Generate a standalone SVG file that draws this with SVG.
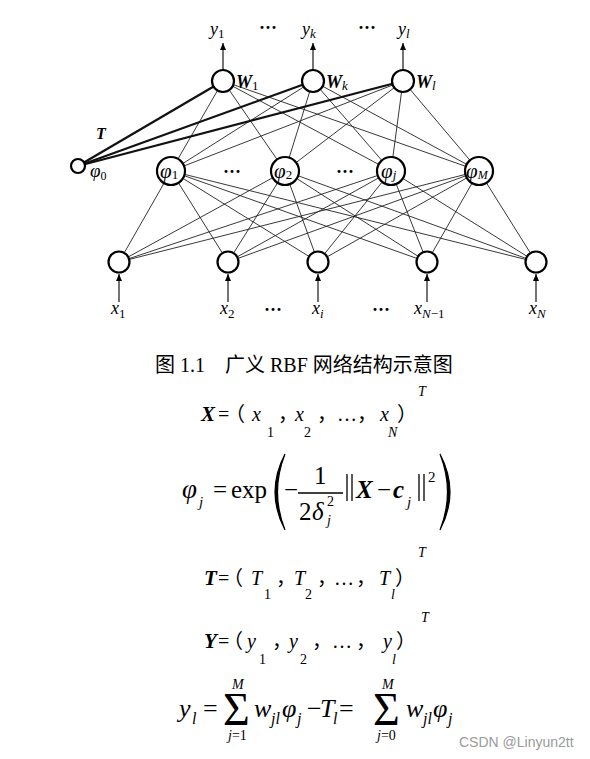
<svg xmlns="http://www.w3.org/2000/svg" width="590" height="759" viewBox="0 0 590 759">
<style>
.thin{stroke:#222;stroke-width:0.9;fill:none}
.thick{stroke:#111;stroke-width:2.2;fill:none}
.node{fill:#fff;stroke:#000;stroke-width:2.2}
.ar{stroke:#000;stroke-width:1.1;fill:none}
.t{font-family:"Liberation Serif","Times New Roman",serif;fill:#000}
.i{font-style:italic}
.b{font-weight:bold}
.cjk{font-family:"Liberation Serif","Noto Sans CJK SC",serif;fill:#000}
.dots{font-family:"Liberation Serif",serif;font-size:18px;font-weight:bold;fill:#000}
</style>
<defs>
<marker id="ah" markerWidth="8" markerHeight="8" refX="7" refY="4" orient="auto" markerUnits="userSpaceOnUse">
<path d="M0,1 L7,4 L0,7 Z" fill="#000"/>
</marker>
</defs>
<rect width="590" height="759" fill="#fff"/>
<g id="connectors">
<line class="thin" x1="171" y1="171" x2="223" y2="81"/>
<line class="thin" x1="171" y1="171" x2="313" y2="81"/>
<line class="thin" x1="171" y1="171" x2="403" y2="81"/>
<line class="thin" x1="285" y1="171" x2="223" y2="81"/>
<line class="thin" x1="285" y1="171" x2="313" y2="81"/>
<line class="thin" x1="285" y1="171" x2="403" y2="81"/>
<line class="thin" x1="391" y1="171" x2="223" y2="81"/>
<line class="thin" x1="391" y1="171" x2="313" y2="81"/>
<line class="thin" x1="391" y1="171" x2="403" y2="81"/>
<line class="thin" x1="479" y1="171" x2="223" y2="81"/>
<line class="thin" x1="479" y1="171" x2="313" y2="81"/>
<line class="thin" x1="479" y1="171" x2="403" y2="81"/>
<line class="thick" x1="78" y1="166" x2="223" y2="81"/>
<line class="thick" x1="78" y1="166" x2="313" y2="81"/>
<line class="thick" x1="78" y1="166" x2="403" y2="81"/>
<line class="thin" x1="119" y1="262" x2="171" y2="171"/>
<line class="thin" x1="119" y1="262" x2="285" y2="171"/>
<line class="thin" x1="119" y1="262" x2="391" y2="171"/>
<line class="thin" x1="119" y1="262" x2="479" y2="171"/>
<line class="thin" x1="228" y1="262" x2="171" y2="171"/>
<line class="thin" x1="228" y1="262" x2="285" y2="171"/>
<line class="thin" x1="228" y1="262" x2="391" y2="171"/>
<line class="thin" x1="228" y1="262" x2="479" y2="171"/>
<line class="thin" x1="318" y1="262" x2="171" y2="171"/>
<line class="thin" x1="318" y1="262" x2="285" y2="171"/>
<line class="thin" x1="318" y1="262" x2="391" y2="171"/>
<line class="thin" x1="318" y1="262" x2="479" y2="171"/>
<line class="thin" x1="427" y1="262" x2="171" y2="171"/>
<line class="thin" x1="427" y1="262" x2="285" y2="171"/>
<line class="thin" x1="427" y1="262" x2="391" y2="171"/>
<line class="thin" x1="427" y1="262" x2="479" y2="171"/>
<line class="thin" x1="536" y1="262" x2="171" y2="171"/>
<line class="thin" x1="536" y1="262" x2="285" y2="171"/>
<line class="thin" x1="536" y1="262" x2="391" y2="171"/>
<line class="thin" x1="536" y1="262" x2="479" y2="171"/>
<line class="ar" x1="223" y1="70" x2="223" y2="43" marker-end="url(#ah)"/>
<line class="ar" x1="313" y1="70" x2="313" y2="43" marker-end="url(#ah)"/>
<line class="ar" x1="403" y1="70" x2="403" y2="43" marker-end="url(#ah)"/>
<line class="ar" x1="119" y1="302" x2="119" y2="274" marker-end="url(#ah)"/>
<line class="ar" x1="228" y1="302" x2="228" y2="274" marker-end="url(#ah)"/>
<line class="ar" x1="318" y1="302" x2="318" y2="274" marker-end="url(#ah)"/>
<line class="ar" x1="427" y1="302" x2="427" y2="274" marker-end="url(#ah)"/>
<line class="ar" x1="536" y1="302" x2="536" y2="274" marker-end="url(#ah)"/>
</g>
<g id="out1"><circle class="node" cx="223" cy="81" r="11"/><text class="t i b" x="236" y="88" font-size="18">W<tspan font-weight="normal" font-style="normal" font-size="13" dy="2">1</tspan></text><text class="t i" x="210" y="35" font-size="18">y<tspan font-style="normal" font-size="13" dy="3">1</tspan></text></g>
<g id="outk"><circle class="node" cx="313" cy="81" r="11"/><text class="t i b" x="326" y="88" font-size="18">W<tspan font-weight="normal" font-size="13" dy="2">k</tspan></text><text class="t i" x="302" y="35" font-size="18">y<tspan font-size="13" dy="3">k</tspan></text></g>
<g id="outl"><circle class="node" cx="403" cy="81" r="11"/><text class="t i b" x="416" y="88" font-size="18">W<tspan font-weight="normal" font-size="13" dy="2">l</tspan></text><text class="t i" x="398" y="35" font-size="18">y<tspan font-size="13" dy="3">l</tspan></text></g>
<g id="dots-top"><text class="dots" x="259" y="34">···</text><text class="dots" x="358" y="34">···</text></g>
<g id="phi0"><circle class="node" cx="78" cy="166" r="7"/><text class="t i" x="90" y="177" font-size="19">φ<tspan font-style="normal" font-size="12" dy="3">0</tspan></text><text class="t i b" x="96" y="139" font-size="16">T</text></g>
<g id="phi1"><circle class="node" cx="171" cy="171" r="14"/><text class="t i" x="160" y="178" font-size="21">φ<tspan font-style="normal" font-size="13" dy="1">1</tspan></text></g>
<g id="phi2"><circle class="node" cx="285" cy="171" r="14"/><text class="t i" x="274" y="178" font-size="21">φ<tspan font-style="normal" font-size="13" dy="1">2</tspan></text></g>
<g id="phij"><circle class="node" cx="391" cy="171" r="14"/><text class="t i" x="381" y="178" font-size="21">φ<tspan font-size="13" dy="1">j</tspan></text></g>
<g id="phiM"><circle class="node" cx="479" cy="171" r="14"/><text class="t i" x="466" y="178" font-size="21">φ<tspan font-size="12" dy="1">M</tspan></text></g>
<g id="dots-mid"><text class="dots" x="223" y="178">···</text><text class="dots" x="336" y="178">···</text></g>
<g id="in1"><circle class="node" cx="119" cy="262" r="10.5"/><text class="t i" x="111" y="314" font-size="18">x<tspan font-style="normal" font-size="13" dy="4">1</tspan></text></g>
<g id="in2"><circle class="node" cx="228" cy="262" r="10.5"/><text class="t i" x="220" y="314" font-size="18">x<tspan font-style="normal" font-size="13" dy="4">2</tspan></text></g>
<g id="ini"><circle class="node" cx="318" cy="262" r="10.5"/><text class="t i" x="312" y="314" font-size="18">x<tspan font-size="13" dy="4">i</tspan></text></g>
<g id="inN1"><circle class="node" cx="427" cy="262" r="10.5"/><text class="t i" x="414" y="314" font-size="18">x<tspan font-size="13" dy="4">N</tspan><tspan font-style="normal" font-size="13">−1</tspan></text></g>
<g id="inN"><circle class="node" cx="536" cy="262" r="10.5"/><text class="t i" x="529" y="314" font-size="18">x<tspan font-size="13" dy="4">N</tspan></text></g>
<g id="dots-bot"><text class="dots" x="264" y="316">···</text><text class="dots" x="372" y="316">···</text></g>
<g id="caption"><text class="cjk" x="155" y="372" font-size="20">图 1.1　广义 RBF 网络结构示意图</text></g>
<g id="eq1" font-size="20">
<text class="t i b" x="201" y="421" font-size="21">X</text>
<text class="t" x="218" y="421">=</text>
<text class="cjk" x="225" y="421">（</text>
<text class="t i" x="252" y="421">x</text><text class="t" x="267" y="437" font-size="14">1</text>
<text class="cjk" x="278" y="421">，</text>
<text class="t i" x="295" y="421">x</text><text class="t" x="304" y="437" font-size="14">2</text>
<text class="cjk" x="317" y="421">，</text>
<text class="t" x="337" y="421">…</text>
<text class="cjk" x="357" y="421">，</text>
<text class="t i" x="380" y="421">x</text><text class="t i" x="388" y="437" font-size="14">N</text>
<text class="cjk" x="397" y="421">）</text>
<text class="t i" x="418" y="396" font-size="14">T</text>
</g>
<g id="eq2" font-size="25">
<text class="t i" x="182" y="498" font-size="27">φ</text><text class="t i" x="199" y="507" font-size="15">j</text>
<text class="t" x="213" y="498">=</text>
<text class="t" x="231" y="498">exp</text>
<path d="M285,454 Q265,492 285,530 Q270,492 285,454 Z" stroke="#000" stroke-width="1.2" fill="#000"/>
<text class="t" x="284" y="498">−</text>
<text class="t" x="314" y="484">1</text>
<line x1="298" y1="493" x2="343" y2="493" stroke="#000" stroke-width="1.3"/>
<text class="t" x="299" y="520">2</text><text class="t i" x="312" y="520">δ</text>
<text class="t" x="327" y="506" font-size="14">2</text><text class="t i" x="327" y="525" font-size="14">j</text>
<line x1="347" y1="474" x2="347" y2="501" stroke="#000" stroke-width="1.3"/>
<line x1="352" y1="474" x2="352" y2="501" stroke="#000" stroke-width="1.3"/>
<text class="t i b" x="356" y="498">X</text>
<text class="t" x="377" y="498">−</text>
<text class="t i b" x="393" y="498">c</text><text class="t i" x="407" y="507" font-size="15">j</text>
<line x1="419" y1="474" x2="419" y2="501" stroke="#000" stroke-width="1.3"/>
<line x1="424" y1="474" x2="424" y2="501" stroke="#000" stroke-width="1.3"/>
<text class="t" x="428" y="482" font-size="15">2</text>
<path d="M440,454 Q460,492 440,530 Q455,492 440,454 Z" stroke="#000" stroke-width="1.2" fill="#000"/>
</g>
<g id="eq3" font-size="20">
<text class="t i b" x="204" y="585" font-size="21">T</text>
<text class="t" x="218" y="585">=</text>
<text class="cjk" x="223" y="585">（</text>
<text class="t i" x="251" y="585">T</text><text class="t" x="264" y="599" font-size="14">1</text>
<text class="cjk" x="276" y="585">，</text>
<text class="t i" x="294" y="585">T</text><text class="t" x="305" y="599" font-size="14">2</text>
<text class="cjk" x="317" y="585">，</text>
<text class="t" x="334" y="585">…</text>
<text class="cjk" x="356" y="585">，</text>
<text class="t i" x="379" y="585">T</text><text class="t i" x="391" y="599" font-size="14">l</text>
<text class="cjk" x="395" y="585">）</text>
<text class="t i" x="418" y="557" font-size="14">T</text>
</g>
<g id="eq4" font-size="20">
<text class="t i b" x="204" y="648" font-size="21">Y</text>
<text class="t" x="218" y="648">=</text>
<text class="cjk" x="223" y="648">（</text>
<text class="t i" x="247" y="648">y</text><text class="t" x="259" y="664" font-size="14">1</text>
<text class="cjk" x="272" y="648">，</text>
<text class="t i" x="289" y="648">y</text><text class="t" x="300" y="664" font-size="14">2</text>
<text class="cjk" x="312" y="648">，</text>
<text class="t" x="332" y="648">…</text>
<text class="cjk" x="356" y="648">，</text>
<text class="t i" x="383" y="648">y</text><text class="t i" x="392" y="664" font-size="14">l</text>
<text class="cjk" x="396" y="648">）</text>
<text class="t i" x="421" y="622" font-size="14">T</text>
</g>
<g id="eq5" font-size="26">
<text class="t i" x="179" y="717">y</text><text class="t i" x="192" y="724" font-size="16">l</text>
<text class="t" x="203" y="717">=</text>
<text class="t" x="223" y="725" font-size="46">Σ</text>
<text class="t i" x="232" y="689" font-size="14">M</text>
<text class="t" x="228" y="740" font-size="14"><tspan font-style="italic">j</tspan>=1</text>
<text class="t i" x="254" y="717">w</text><text class="t i" x="271" y="724" font-size="16">jl</text>
<text class="t i" x="282" y="717">φ</text><text class="t i" x="297" y="724" font-size="16">j</text>
<text class="t" x="307" y="717">−</text>
<text class="t i" x="320" y="717">T</text><text class="t i" x="333" y="724" font-size="16">l</text>
<text class="t" x="339" y="717">=</text>
<text class="t" x="373" y="725" font-size="46">Σ</text>
<text class="t i" x="382" y="689" font-size="14">M</text>
<text class="t" x="377" y="740" font-size="14"><tspan font-style="italic">j</tspan>=0</text>
<text class="t i" x="406" y="717">w</text><text class="t i" x="423" y="724" font-size="16">jl</text>
<text class="t i" x="433" y="717">φ</text><text class="t i" x="448" y="724" font-size="16">j</text>
</g>
<g id="watermark"><text x="459" y="747" font-family="'Liberation Sans',Arial,sans-serif" font-size="14" fill="#9a9a9a">CSDN @Linyun2tt</text></g>
</svg>
